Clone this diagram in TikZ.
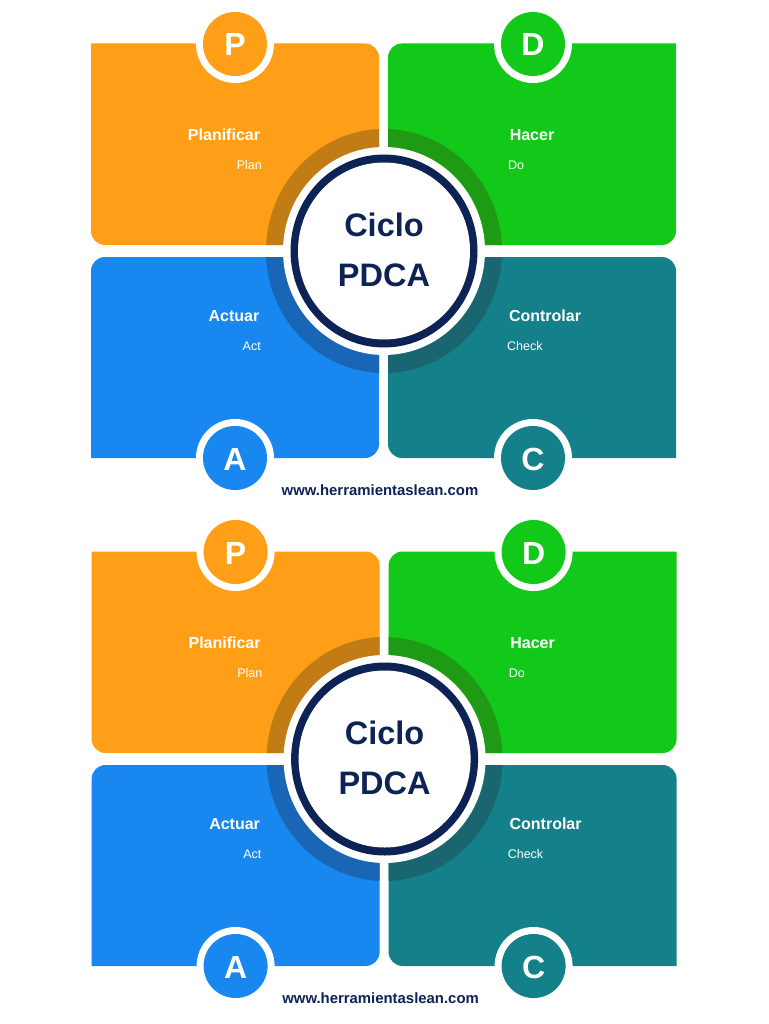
\documentclass[tikz,border=0pt]{standalone}
\usepackage{fontspec}
\setmainfont{Liberation Sans}
\definecolor{cOrange}{HTML}{FF9F17}
\definecolor{cGreen}{HTML}{12C91A}
\definecolor{cBlue}{HTML}{1887F0}
\definecolor{cTeal}{HTML}{14808A}
\definecolor{dOrange}{HTML}{C17C16}
\definecolor{dGreen}{HTML}{1F9A14}
\definecolor{dBlue}{HTML}{1866B5}
\definecolor{dTeal}{HTML}{1A6670}
\definecolor{cNavy}{HTML}{0D2255}
\tikzset{
  headbig/.style={text=white,font=\fontsize{16}{16}\selectfont\bfseries,inner sep=0pt},
  subtxt/.style={text=white,font=\fontsize{12.5}{12.5}\selectfont,inner sep=0pt},
  lettertxt/.style={text=white,font=\fontsize{32}{32}\selectfont\bfseries,inner sep=0pt,anchor=base},
  centertxt/.style={text=cNavy,font=\fontsize{32.5}{32.5}\selectfont\bfseries,inner sep=0pt,anchor=base},
  urltxt/.style={text=cNavy,font=\fontsize{14.9}{14.9}\selectfont\bfseries,inner sep=0pt,anchor=base}
}
% #1 x0, #2 y0, #3 x1, #4 y1, #5 colour, #6 dark colour, corner radii: #7 tl, #8 tr, #9 br, \cbl = bl
% the y axis points down, so the arc angles run as on screen with sign reversed
\newcommand{\panelshape}[9]{%
  \def\panelpath{(#1+#7,#2) -- (#3-#8,#2) arc[start angle=-90,end angle=0,radius=#8]
    -- (#3,#4-#9) arc[start angle=0,end angle=90,radius=#9]
    -- (#1+\cbl,#4) arc[start angle=90,end angle=180,radius=\cbl]
    -- (#1,#2+#7) arc[start angle=180,end angle=270,radius=#7] -- cycle}%
  \fill[#5] \panelpath;
  \begin{scope}
    \clip \panelpath;
    \fill[#6] (384,251) ellipse[x radius=118,y radius=122];
  \end{scope}
}
\newcommand{\pdcablock}{%
  \def\cbl{14}\panelshape{91}{43.5}{379}{245}{cOrange}{dOrange}{0.01}{14}{0.01}
  \def\cbl{0.01}\panelshape{388}{43.5}{676}{245}{cGreen}{dGreen}{14}{0.01}{14}
  \def\cbl{0.01}\panelshape{91}{257}{379}{458}{cBlue}{dBlue}{14}{0.01}{14}
  \def\cbl{14}\panelshape{388}{257}{676}{458}{cTeal}{dTeal}{0.01}{14}{0.01}
  \fill[white] (384,251) ellipse[x radius=101,y radius=104];
  \fill[cNavy] (384,251) ellipse[x radius=93.5,y radius=96.5];
  \fill[white] (384,251) ellipse[x radius=86,y radius=88.5];
  \foreach \cx/\cy/\cc in {235/44/cOrange,533/44/cGreen,235/458/cBlue,533/458/cTeal}{
    \fill[white] (\cx,\cy) circle[radius=39];
    \fill[\cc] (\cx,\cy) circle[radius=32];
  }
  \node[lettertxt] (p) at (235,56) {P};
  \node[lettertxt] (d) at (533,56) {D};
  \node[lettertxt] (a) at (235,470) {A};
  \node[lettertxt] (c) at (533,470) {C};
  \node[headbig,anchor=base] (plan) at (224,140.3) {Planificar};
  \node[subtxt,anchor=base east] (plans) at (262,169.5) {Plan};
  \node[headbig,anchor=base] (hacer) at (532,140.3) {Hacer};
  \node[subtxt,anchor=base west] (dos) at (508,169.5) {Do};
  \node[headbig,anchor=base] (actuar) at (234,321) {Actuar};
  \node[subtxt,anchor=base east] (acts) at (261,350) {Act};
  \node[headbig,anchor=base] (ctrl) at (545,321) {Controlar};
  \node[subtxt,anchor=base west] (chk) at (507,350) {Check};
  \node[centertxt] (ciclo) at (384,236.5) {Ciclo};
  \node[centertxt] (pdca) at (384,286.5) {PDCA};
  \node[urltxt] (url) at (380,495) {www.herramientaslean.com};
}
\begin{document}
\begin{tikzpicture}[x=1pt,y=-1pt]
\useasboundingbox (0,0) rectangle (768,1024);
\fill[white] (0,0) rectangle (768,1024);
\begin{scope}[name prefix=one-]
  \pdcablock
\end{scope}
\begin{scope}[shift={(0.6,508)},name prefix=two-]
  \pdcablock
\end{scope}
\end{tikzpicture}
\end{document}
